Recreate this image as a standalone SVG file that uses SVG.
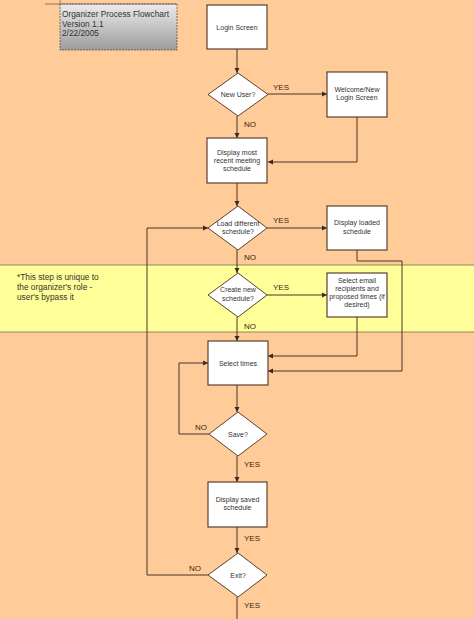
<svg xmlns="http://www.w3.org/2000/svg" width="474" height="619" viewBox="0 0 474 619">
<defs>
<linearGradient id="tg" x1="0" y1="0" x2="0" y2="1">
<stop offset="0" stop-color="#ececec"/>
<stop offset="1" stop-color="#9c9c9c"/>
</linearGradient>
<marker id="ah" markerWidth="6" markerHeight="6" refX="5" refY="3" orient="auto" markerUnits="userSpaceOnUse">
<path d="M0,0.5 L5,3 L0,5.5 Z" fill="#3a2a20"/>
</marker>
<style>
.box{fill:#ffffff;stroke:#5a4030;stroke-width:1.2}
.dia{fill:#ffffff;stroke:#5a4030;stroke-width:1}
.t{font-family:"Liberation Sans",Arial,sans-serif;font-size:7px;fill:#333333;text-anchor:middle}
.lbl{font-family:"Liberation Sans",Arial,sans-serif;font-size:8px;fill:#3a2410}
.note{font-family:"Liberation Sans",Arial,sans-serif;font-size:8.3px;fill:#333333}
.c{fill:none;stroke:#4a3426;stroke-width:1}
.ca{fill:none;stroke:#4a3426;stroke-width:1;marker-end:url(#ah)}
</style>
</defs>
<rect x="0" y="0" width="474" height="619" fill="#ffcc99"/>
<g id="band">
<rect x="0" y="265" width="474" height="67" fill="#ffff99"/>
<line x1="0" y1="265" x2="474" y2="265" stroke="#7a6a50" stroke-width="0.8"/>
<line x1="0" y1="332" x2="474" y2="332" stroke="#7a6a50" stroke-width="0.8"/>
<text class="note" x="17" y="280">*This step is unique to</text>
<text class="note" x="17" y="290">the organizer's role -</text>
<text class="note" x="17" y="300">user's bypass it</text>
</g>
<g id="title">
<rect x="60" y="4" width="117" height="46" fill="url(#tg)" stroke="#555" stroke-width="0.8" stroke-dasharray="2,1"/>
<line x1="45" y1="4" x2="177" y2="4" stroke="#8a7060" stroke-width="1.2"/>
<line x1="60" y1="0" x2="60" y2="4" stroke="#8a7060" stroke-width="0.8"/>
<text class="note" x="62" y="17">Organizer Process Flowchart</text>
<text class="note" x="62" y="27">Version 1.1</text>
<text class="note" x="62" y="36">2/22/2005</text>
</g>
<g id="connectors">
<path class="ca" d="M237,49 V73"/>
<path class="ca" d="M268,94 H327"/>
<path class="ca" d="M237,116 V138"/>
<path class="ca" d="M357,117 V162 H268"/>
<path class="ca" d="M237,183 V206"/>
<path class="ca" d="M267,228 H327"/>
<path class="ca" d="M237,250 V273"/>
<path class="ca" d="M267,295 H327"/>
<path class="ca" d="M357,250 V261 H402 V371 H268"/>
<path class="ca" d="M357,317 V356 H268"/>
<path class="ca" d="M237,317 V341"/>
<path class="ca" d="M237,385 V412"/>
<path class="ca" d="M209,434 H179 V363 H208"/>
<path class="ca" d="M237,456 V482"/>
<path class="ca" d="M237,527 V553"/>
<path class="ca" d="M208,575 H147 V228 H208"/>
<path class="c" d="M237,597 V619"/>
</g>
<g id="labels">
<text class="lbl" x="273" y="90">YES</text>
<text class="lbl" x="244" y="127">NO</text>
<text class="lbl" x="273" y="223">YES</text>
<text class="lbl" x="244" y="260">NO</text>
<text class="lbl" x="273" y="290">YES</text>
<text class="lbl" x="244" y="329">NO</text>
<text class="lbl" x="195" y="430">NO</text>
<text class="lbl" x="244" y="467">YES</text>
<text class="lbl" x="244" y="541">YES</text>
<text class="lbl" x="189" y="571">NO</text>
<text class="lbl" x="244" y="608">YES</text>
</g>
<g id="login"><rect class="box" x="207" y="5" width="60" height="44"/><text class="t" x="237" y="30">Login Screen</text></g>
<g id="newuser"><polygon class="dia" points="238,73 268,94.5 238,116 208,94.5"/><text class="t" x="238" y="97">New User?</text></g>
<g id="welcome"><rect class="box" x="327" y="72" width="60" height="45"/><text class="t" x="357" y="92">Welcome/New</text><text class="t" x="357" y="100">Login Screen</text></g>
<g id="display"><rect class="box" x="207" y="138" width="60" height="45"/><text class="t" x="237" y="155">Display most</text><text class="t" x="237" y="163">recent meeting</text><text class="t" x="237" y="171">schedule</text></g>
<g id="loaddiff"><polygon class="dia" points="238,206 267,228 238,250 208,228"/><text class="t" x="238" y="226">Load different</text><text class="t" x="238" y="234">schedule?</text></g>
<g id="loaded"><rect class="box" x="327" y="206" width="60" height="44"/><text class="t" x="357" y="225">Display loaded</text><text class="t" x="357" y="234">schedule</text></g>
<g id="create"><polygon class="dia" points="238,273 267,295 238,317 208,295"/><text class="t" x="238" y="292">Create new</text><text class="t" x="238" y="301">schedule?</text></g>
<g id="email"><rect class="box" x="327" y="273" width="60" height="44"/><text class="t" x="357" y="283">Select email</text><text class="t" x="357" y="291">recipients and</text><text class="t" x="357" y="299">proposed times (if</text><text class="t" x="357" y="307">desired)</text></g>
<g id="select"><rect class="box" x="208" y="341" width="60" height="44"/><text class="t" x="238" y="366">Select times</text></g>
<g id="save"><polygon class="dia" points="238,412 267,434 238,456 209,434"/><text class="t" x="238" y="437">Save?</text></g>
<g id="saved"><rect class="box" x="208" y="482" width="59" height="45"/><text class="t" x="237.5" y="502">Display saved</text><text class="t" x="237.5" y="510">schedule</text></g>
<g id="exit"><polygon class="dia" points="238,553 267,575 238,597 208,575"/><text class="t" x="238" y="578">Exit?</text></g>
</svg>
